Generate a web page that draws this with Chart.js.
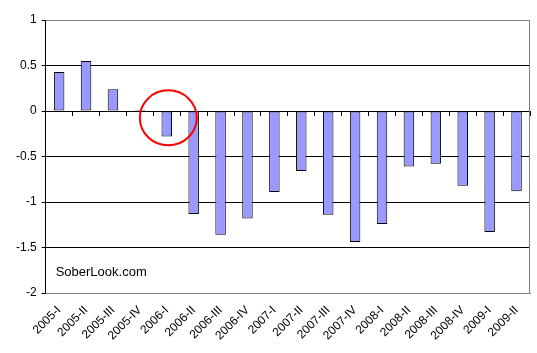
<!DOCTYPE html>
<html lang="en">
<head>
    <meta charset="UTF-8">
    <title>SoberLook quarterly chart</title>
    <style>
        body {
            margin: 0;
            background: #fff;
        }
        #wrap {
            width: 537px;
            height: 353px;
        }
    </style>
    <script src="https://cdn.jsdelivr.net/npm/chart.js"></script>
</head>
<body>
    <div id="wrap">
        <canvas id="chart" width="537" height="353"></canvas>
    </div>

    <script>
        // quarters along the bottom
        const quarters = [
            '2005-I', '2005-II', '2005-III', '2005-IV',
            '2006-I', '2006-II', '2006-III', '2006-IV',
            '2007-I', '2007-II', '2007-III', '2007-IV',
            '2008-I', '2008-II', '2008-III', '2008-IV',
            '2009-I', '2009-II'
        ];
        // values
        const values = [
            0.43, 0.55, 0.24, 0.01,
            -0.28, -1.13, -1.36, -1.18,
            -0.89, -0.66, -1.14, -1.44,
            -1.24, -0.61, -0.58, -0.82,
            -1.33, -0.88
        ];
        const yMin = -2;
        const yMax = 1;
        const yStep = 0.5;

        // the circled quarter and the watermark
        const circledQuarter = '2006-I';
        const circleValue = -0.075;
        const watermark = 'SoberLook.com';

        const grey = '#808080';
        const fontFamily = '"Liberation Sans", Arial, sans-serif';

        // plot frame, red circle and watermark text
        const extras = {
            id: 'extras',
            afterDatasetsDraw(chart) {
                const ctx = chart.ctx;
                const a = chart.chartArea;
                const x = chart.scales.x;
                const y = chart.scales.y;
                ctx.save();
                // right edge of the plot frame
                ctx.strokeStyle = grey;
                ctx.lineWidth = 1;
                ctx.beginPath();
                ctx.moveTo(Math.round(a.right) - 0.5, a.top);
                ctx.lineTo(Math.round(a.right) - 0.5, a.bottom);
                ctx.stroke();

                // red circle round the 2006-I bar
                const cx = x.getPixelForValue(quarters.indexOf(circledQuarter)) + 1.5;
                const cy = y.getPixelForValue(circleValue);
                ctx.strokeStyle = '#ff0000';
                ctx.lineWidth = 2;
                ctx.beginPath();
                ctx.ellipse(cx, cy, 28.5, 27.5, 0, 0, Math.PI * 2);
                ctx.stroke();

                // watermark
                ctx.fillStyle = '#000';
                ctx.font = '13px ' + fontFamily;
                ctx.textBaseline = 'alphabetic';
                ctx.fillText(watermark, a.left + 10, y.getPixelForValue(-1.8) + 1);
                ctx.restore();
            }
        };

        new Chart(document.getElementById('chart').getContext('2d'), {
            type: 'bar',
            data: {
                labels: quarters,
                datasets: [{
                    data: values,
                    backgroundColor: '#9999ff',
                    borderColor: '#000',
                    borderWidth: 1,
                    borderSkipped: false,
                    categoryPercentage: 1,
                    barPercentage: 0.39
                }]
            },
            options: {
                responsive: false,
                animation: false,
                devicePixelRatio: 1,
                layout: {
                    padding: { left: 11, right: 7, top: 20, bottom: 0 }
                },
                plugins: {
                    legend: { display: false },
                    tooltip: { enabled: false }
                },
                scales: {
                    x: {
                        grid: { display: false, drawTicks: false },
                        border: { color: grey, width: 1 },
                        ticks: {
                            color: '#000',
                            font: { family: fontFamily, size: 12 },
                            minRotation: 45,
                            maxRotation: 45,
                            autoSkip: false,
                            padding: 10
                        }
                    },
                    // category axis crossing at zero, only tick marks
                    xz: {
                        type: 'category',
                        position: { y: 0 },
                        offset: true,
                        grid: {
                            display: true,
                            offset: true,
                            drawOnChartArea: false,
                            drawTicks: true,
                            tickLength: 4,
                            color: '#000'
                        },
                        border: { display: true, color: '#000', width: 1 },
                        ticks: { display: false }
                    },
                    y: {
                        min: yMin,
                        max: yMax,
                        ticks: {
                            stepSize: yStep,
                            color: '#000',
                            padding: 5,
                            font: { family: fontFamily, size: 12 },
                            callback: v => String(v)
                        },
                        grid: {
                            color: c => (c.tick && (c.tick.value === yMax || c.tick.value === yMin)) ? grey : '#000',
                            tickColor: '#000',
                            tickLength: 4,
                            lineWidth: 1
                        },
                        border: { color: '#000', width: 1 }
                    }
                }
            },
            plugins: [extras]
        });
    </script>
</body>
</html>
